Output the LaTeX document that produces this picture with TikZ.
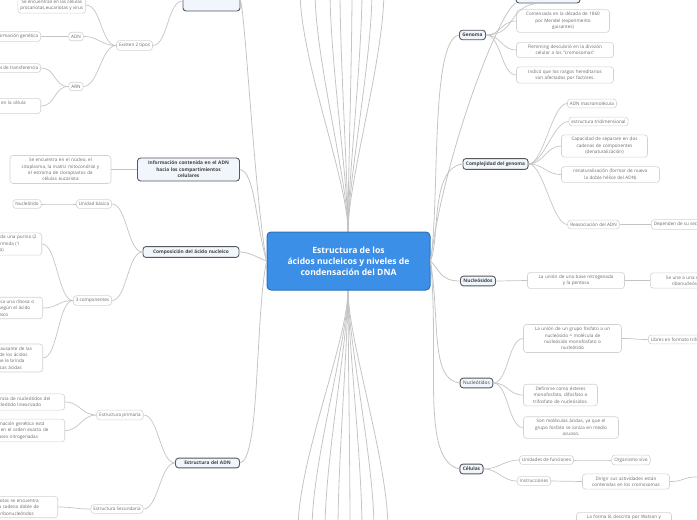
\documentclass[tikz,border=0pt]{standalone}
\usepackage{fontspec}
\setmainfont{Open Sans}
\definecolor{lk}{HTML}{C4C4C4}
\definecolor{lb}{HTML}{D2D2D2}
\definecolor{tx}{HTML}{6A6A6A}
\definecolor{mf}{HTML}{F1F6FC}
\definecolor{mb}{HTML}{55595E}
\definecolor{cf}{HTML}{3C8FE6}
\definecolor{cb}{HTML}{2C6FB9}
\begin{document}
\begin{tikzpicture}[x=1pt,y=-1pt,
 leaf/.style={draw=lb,line width=0.6pt,rounded corners=3pt,fill=white,text=tx,font=\fontsize{4.6}{6.4}\selectfont,align=center,inner xsep=2.5pt,inner ysep=2.6pt},
 mainb/.style={draw=mb,line width=0.9pt,rounded corners=3pt,fill=mf,text=black!75,font=\fontsize{4.8}{6.6}\selectfont\bfseries,align=center,inner xsep=3pt,inner ysep=3pt},
 lnk/.style={draw=lk,line width=0.7pt},
 lnkc/.style={draw=lk,line width=0.8pt}]
\useasboundingbox (0,0) rectangle (697,520);
% --- links through center to off-canvas branches
\foreach \a/\b in {300/-10,315/-10,330/-10,340/-10,352/-10,362/-10,372/-10,384/-10}
  {\draw[lnkc] (348,232) .. controls (348,180) and (\a,60) .. (\a,\b);}
\foreach \a/\b in {298/530,312/530,325/530,338/530,350/530,362/530,374/530,388/530}
  {\draw[lnkc] (348,290) .. controls (348,340) and (\a,460) .. (\a,\b);}
% --- center
\node[draw=cb,line width=1pt,fill=cf,rounded corners=4pt,text=white,font=\fontsize{8.6}{11}\selectfont\bfseries,align=center,minimum width=163pt,minimum height=58pt] (c) at (348.5,261) {Estructura de los\\ácidos nucleicos y niveles de\\condensación del DNA};
% --- left main nodes
\node[mainb,minimum width=57pt,minimum height=20pt] (t0) at (211.5,1) {};
\node[mainb,text width=96pt] (info) at (188.5,169.5) {Información contenida en el ADN\\hacia los compartimientos\\celulares};
\node[mainb,text width=90pt] (comp) at (191,252) {Composición del ácido nucleico};
\node[mainb,text width=58pt] (estr) at (207.5,463) {Estructura del ADN};
% --- left leaves
\node[leaf] (tipos) at (134.5,45.5) {Existen 2 tipos};
\node[leaf] (adn) at (76,36.5) {ADN};
\node[leaf] (arn) at (76,86.5) {ARN};
\node[leaf,anchor=east] (l1) at (86,5) {Se encuentran en las células\\procariotas,eucariotas y virus};
\node[leaf,anchor=east] (l2) at (41,36.5) {Información genética};
\node[leaf,anchor=east] (l3) at (41,68) {ARN de transferencia};
\node[leaf,anchor=east,text width=100pt] (l4) at (41,106) {Se encuentra presente en la célula\\eucariota};
\node[leaf,text width=96pt] (l5) at (60.5,169.5) {Se encuentra en el núcleo, el\\citoplasma, la matriz mitocondrial y\\el estroma de cloroplastos de\\células eucariota};
\node[leaf] (unb) at (94,204) {Unidad básica};
\node[leaf] (nuc) at (27,204) {Nucleótido};
\node[leaf] (tres) at (92.5,300.5) {3 componentes};
\node[leaf,anchor=east,text width=84pt] (l6) at (42,244) {Una base nitrogenada una purina (2\\anillos) ó pirimida (1\\anillo)};
\node[leaf,anchor=east,text width=82pt] (l7) at (43,308) {Un azúcar pentosa una ribosa o\\desoxirribosa según el ácido\\nucleico};
\node[leaf,anchor=east,text width=82pt] (l8) at (43,358) {Grupo fosfato causante de las\\propiedades de los ácidos\\nucleicos que le brinda\\características ácidas};
\node[leaf] (ep) at (120,415) {Estructura primaria};
\node[leaf] (es) at (117,509) {Estructura Secundaria};
\node[leaf,anchor=east,text width=98pt] (l9) at (65,402) {Es la secuencia de nucleótidos del\\polinucleótido linearizado};
\node[leaf,anchor=east,text width=98pt] (l10) at (65,430.5) {La información genética está\\contenida en el orden exacto de\\las bases nitrogenadas};
\node[leaf,anchor=north east,text width=92pt] (l11) at (58,496) {En eucariotas se encuentra\\como una cadena doble de\\desoxirribonucleótidos};
% --- right main nodes
\node[mainb,minimum width=64pt,minimum height=18pt] (t1) at (548,-6) {};
\node[mainb] (gen) at (472.5,35) {Genoma};
\node[mainb] (cg) at (495.5,164) {Complejidad del genoma};
\node[mainb] (nsd) at (478,281) {Nucleósidos};
\node[mainb,font=\fontsize{4.8}{6.6}\selectfont,fill=mf] (ntd) at (476.5,383) {Nucleótidos};
\node[mainb] (cel) at (471.5,469) {Células};
% --- right leaves
\node[leaf,text width=88pt] (g1) at (563,21) {Comenzada en la década de 1860\\por Mendel (experimento\\guisantes)};
\node[leaf,text width=92pt] (g2) at (565,50) {Flemming descubrió en la división\\celular a los "cromosomas"};
\node[leaf,text width=92pt] (g3) at (565,75) {Indicó que los rasgos hereditarios\\son afectados por factores.};
\node[leaf] (c1) at (592,103.5) {ADN macromolécula};
\node[leaf] (c2) at (598.5,121.5) {estructura tridimensional};
\node[leaf,text width=81pt] (c3) at (604.5,146) {Capacidad de separare en dos\\cadenas de componentes\\(denaturalización)};
\node[leaf,text width=93pt] (c4) at (610.5,174.5) {renaturalización (formar de nuevo\\la doble hélice del ADN)};
\node[leaf] (c5) at (593.5,224.5) {Reasociación del ADN};
\node[leaf,anchor=west] (c6) at (651,224.5) {Dependen de su secuencia};
\node[leaf,text width=92pt] (n1) at (576,280.5) {La unión de una base nitrogenada\\y la pentosa};
\node[leaf,anchor=west,text width=70pt] (n2) at (650,280.5) {Se une a una ribosa\\ribonucleósido};
\node[leaf,text width=93pt] (d1) at (572.5,338.5) {La unión de un grupo fosfato a un\\nucleósido = molécula de\\nucleósido monofosfato o\\nucleótido};
\node[leaf,anchor=west] (d2) at (648,339.5) {Libres en formato trifosfato};
\node[leaf,text width=69pt] (d3) at (560.5,395) {Definirse como ésteres\\monofosfato, difosfato o\\trifosfato de nucleósidos.};
\node[leaf,text width=90pt] (d4) at (571,427.5) {Son moléculas ácidas, ya que el\\grupo fosfato se ioniza en medio\\acuoso.};
\node[leaf] (u1) at (546.5,460) {Unidades de funciones};
\node[leaf] (u2) at (631,460) {Organismo vivo};
\node[leaf] (u3) at (534,481) {Instrucciones};
\node[leaf,text width=82pt] (u4) at (626,481.5) {Dirigir sus actividades están\\contenidas en los cromosomas};
\node[leaf,anchor=west,minimum height=14pt,minimum width=20pt] (u5) at (697,477) {};
\node[leaf,anchor=north,text width=90pt] (w1) at (624,512) {La forma B, descrita por Watson y\\Crick};
% --- links center to main
\draw[lnkc] (c.west) .. controls (255,200) and (245,10) .. (t0.east);
\draw[lnkc] (c.west) .. controls (255,220) and (255,172) .. (info.east);
\draw[lnkc] (c.west) .. controls (258,258) and (250,252) .. (comp.east);
\draw[lnkc] (c.west) .. controls (255,320) and (260,460) .. (estr.east);
\draw[lnkc] (c.east) .. controls (440,200) and (430,40) .. (gen.west);
\draw[lnkc] (c.east) .. controls (440,240) and (430,168) .. (cg.west);
\draw[lnkc] (c.east) .. controls (440,270) and (440,281) .. (nsd.west);
\draw[lnkc] (c.east) .. controls (440,320) and (430,380) .. (ntd.west);
\draw[lnkc] (c.east) .. controls (440,360) and (420,460) .. (cel.west);
\draw[lnkc] (c.east) .. controls (445,150) and (500,10) .. (t1.south west);
% --- sub links
\foreach \p/\k in {t0/tipos,tipos/l1,tipos/adn,tipos/arn,adn/l2,arn/l3,arn/l4,info/l5,comp/unb,comp/tres,unb/nuc,tres/l6,tres/l7,tres/l8,estr/ep,estr/es,ep/l9,ep/l10,es/l11}
 {\draw[lnk] (\p.west) .. controls +(-15,0) and +(15,0) .. (\k.east);}
\foreach \p/\k in {gen/g1,gen/g2,gen/g3,cg/c1,cg/c2,cg/c3,cg/c4,cg/c5,c5/c6,nsd/n1,n1/n2,ntd/d1,d1/d2,ntd/d3,ntd/d4,cel/u1,cel/u3,u1/u2,u3/u4,u4/u5}
 {\draw[lnk] (\p.east) .. controls +(15,0) and +(-15,0) .. (\k.west);}
\draw[lnk] (gen.east) .. controls (520,35) and (505,0) .. (t1.south);
\end{tikzpicture}
\end{document}
